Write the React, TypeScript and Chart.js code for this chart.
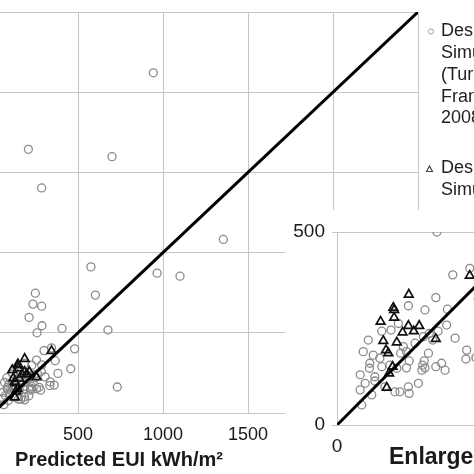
import React, { useEffect, useRef } from 'react';
import { Chart, registerables } from 'chart.js';

Chart.register(...registerables);

// Design simulation (Turner & Frankel 2008): predicted EUI (x) vs measured EUI (y), kWh/m2
const circleX = [
  344, 300, 256, 185, 228, 286, 159, 116, 140, 284, 262, 239, 224, 81, 306, 248,
  68, 94, 111, 172, 202, 180, 237, 165, 226, 222, 228, 220, 336, 334, 85, 84,
  116, 155, 180, 256, 280, 271, 60, 98, 211, 60, 73, 90, 150, 163, 185, 187,
  64, 124, 137, 98, 187, 259,
  943, 208, 700, 286, 1355, 576, 965, 1100, 249, 602, 235, 286, 212, 288, 406,
  676, 480, 457, 382, 366, 731, 360,
];
const circleY = [
  406, 389, 330, 309, 298, 300, 263, 243, 246, 259, 243, 237, 229, 220, 225, 220,
  190, 181, 173, 203, 212, 190, 186, 186, 166, 155, 148, 142, 194, 171, 160, 147,
  151, 147, 148, 151, 142, 160, 130, 114, 108, 91, 108, 78, 86, 86, 99, 82,
  52, 99, 155, 125, 166, 500,
  2121, 1644, 1598, 1403, 1082, 911, 872, 853, 747, 735, 679, 666, 596, 544, 527,
  517, 400, 276, 247, 326, 162, 174,
];
// Design simulation (second group)
const triangleX = [344, 186, 146, 148, 148, 113, 185, 213, 170, 199, 120, 155, 256, 127, 133, 144, 135, 129];
const triangleY = [387, 338, 304, 298, 278, 268, 257, 257, 240, 243, 218, 214, 223, 194, 186, 151, 134, 97];

// reference line y = x
const identityLine = [0, 2500];

const mainGridTicks = [500, 1000, 1500, 2000, 2500];
const mainYGridTicks = [0, 500, 1000, 1500, 2000, 2500];
const mainLabelledTicks = [500, 1000, 1500];
const insetXTicks = [0];
const insetYTicks = [0, 500];

const legendLines1 = ['Design', 'Simulation', '(Turner &', 'Frankel', '2008)'];
const legendLines2 = ['Design', 'Simulation'];
const mainTitle = 'Predicted EUI kWh/m²';
const insetTitle = 'Enlarged view';

const FONT = '"Liberation Sans", Arial, Helvetica, sans-serif';
const GRID = '#c6c6c6';
const CIRCLE = '#8a8a8a';
const TRI = '#111111';
const TEXT = '#1a1a1a';

function pts(xs: number[], ys: number[]) {
  return xs.map((x, i) => ({ x, y: ys[i] }));
}

export default function App() {
  const mainRef = useRef<HTMLCanvasElement | null>(null);
  const insetRef = useRef<HTMLCanvasElement | null>(null);

  useEffect(() => {
    const circles = pts(circleX, circleY);
    const triangles = pts(triangleX, triangleY);
    const line = identityLine.map((v) => ({ x: v, y: v }));

    const datasets = () => [
      {
        label: 'identity',
        data: line,
        showLine: true,
        borderColor: '#000',
        borderWidth: 3,
        pointRadius: 0,
        order: 0,
      },
      {
        label: 'Design Simulation (Turner & Frankel 2008)',
        data: circles,
        pointStyle: 'circle',
        pointRadius: 4,
        borderColor: CIRCLE,
        borderWidth: 1.3,
        backgroundColor: 'rgba(0,0,0,0)',
        order: 2,
      },
      {
        label: 'Design Simulation',
        data: triangles,
        pointStyle: 'triangle',
        pointRadius: 5,
        borderColor: TRI,
        borderWidth: 1.7,
        backgroundColor: 'rgba(0,0,0,0)',
        order: 1,
      },
    ];

    const mainDecor = {
      id: 'mainDecor',
      afterDraw(chart: any) {
        const ctx = chart.ctx;
        const area = chart.chartArea;
        ctx.save();
        // legend
        const lx = area.right + 23;
        ctx.font = `18px ${FONT}`;
        ctx.fillStyle = '#222';
        ctx.textBaseline = 'middle';
        ctx.textAlign = 'left';
        legendLines1.forEach((t, i) => ctx.fillText(t, lx, area.top + 19.5 + i * 21.7));
        legendLines2.forEach((t, i) => ctx.fillText(t, lx, area.top + 156 + i * 22.5));
        ctx.strokeStyle = '#a0a0a0';
        ctx.lineWidth = 1;
        ctx.beginPath();
        ctx.arc(lx - 10, area.top + 19.5, 2.6, 0, Math.PI * 2);
        ctx.stroke();
        ctx.strokeStyle = '#444';
        ctx.lineWidth = 1.2;
        const tx = lx - 11.5;
        const ty = area.top + 157;
        ctx.beginPath();
        ctx.moveTo(tx, ty - 3);
        ctx.lineTo(tx + 3, ty + 2.5);
        ctx.lineTo(tx - 3, ty + 2.5);
        ctx.closePath();
        ctx.stroke();
        // x-axis title
        ctx.font = `bold 20px ${FONT}`;
        ctx.fillStyle = TEXT;
        ctx.textAlign = 'center';
        ctx.fillText(mainTitle, 119, area.bottom + 47);
        ctx.restore();
      },
    };

    const insetDecor = {
      id: 'insetDecor',
      afterDraw(chart: any) {
        const ctx = chart.ctx;
        const area = chart.chartArea;
        ctx.save();
        ctx.font = `bold 23px ${FONT}`;
        ctx.fillStyle = TEXT;
        ctx.textAlign = 'left';
        ctx.textBaseline = 'middle';
        ctx.fillText(insetTitle, area.left + 52, area.bottom + 33);
        ctx.restore();
      },
    };

    const main = new Chart(mainRef.current as HTMLCanvasElement, {
      type: 'scatter',
      data: { datasets: datasets() as any },
      options: {
        animation: false,
        responsive: true,
        maintainAspectRatio: false,
        layout: { autoPadding: false, padding: { left: 0, top: 12, right: 56, bottom: 0 } },
        plugins: { legend: { display: false }, tooltip: { enabled: false } },
        scales: {
          x: {
            type: 'linear',
            min: 41,
            max: 2500,
            afterBuildTicks: (s: any) => {
              s.ticks = mainGridTicks.map((v) => ({ value: v }));
            },
            afterFit: (s: any) => {
              s.height = 61;
            },
            grid: { color: GRID, drawTicks: false, lineWidth: 1 },
            border: { display: false },
            ticks: {
              padding: 11,
              color: TEXT,
              font: { family: FONT, size: 18 },
              maxRotation: 0,
              autoSkip: false,
              callback: (v: any) => (mainLabelledTicks.includes(Number(v)) ? String(v) : ''),
            },
          },
          y: {
            type: 'linear',
            min: 0,
            max: 2500,
            afterBuildTicks: (s: any) => {
              s.ticks = mainYGridTicks.map((v) => ({ value: v }));
            },
            afterFit: (s: any) => {
              s.width = 0;
            },
            grid: { color: GRID, drawTicks: false, lineWidth: 1 },
            border: { display: false },
            ticks: { display: false },
          },
        },
      } as any,
      plugins: [mainDecor],
    });

    const inset = new Chart(insetRef.current as HTMLCanvasElement, {
      type: 'scatter',
      data: { datasets: datasets() as any },
      options: {
        animation: false,
        responsive: true,
        maintainAspectRatio: false,
        layout: { autoPadding: false, padding: { left: 0, top: 22, right: 0, bottom: 0 } },
        plugins: { legend: { display: false }, tooltip: { enabled: false } },
        scales: {
          x: {
            type: 'linear',
            min: 0,
            max: 355,
            afterBuildTicks: (s: any) => {
              s.ticks = insetXTicks.map((v) => ({ value: v }));
            },
            afterFit: (s: any) => {
              s.height = 49;
            },
            grid: { color: GRID, drawTicks: false },
            border: { display: true, color: GRID },
            ticks: { padding: 10, color: TEXT, font: { family: FONT, size: 19 }, maxRotation: 0 },
          },
          y: {
            type: 'linear',
            min: 0,
            max: 500,
            afterBuildTicks: (s: any) => {
              s.ticks = insetYTicks.map((v) => ({ value: v }));
            },
            afterFit: (s: any) => {
              s.width = 52;
            },
            grid: { color: GRID, drawTicks: true, tickLength: 5 },
            border: { display: true, color: GRID },
            ticks: { padding: 7, color: TEXT, font: { family: FONT, size: 19 } },
          },
        },
      } as any,
      plugins: [insetDecor],
    });

    return () => {
      main.destroy();
      inset.destroy();
    };
  }, []);

  return (
    <div style={{ position: 'fixed', left: 0, top: 0, width: 474, height: 474, background: '#fff', overflow: 'hidden' }}>
      <div style={{ position: 'absolute', left: 0, top: 0, width: 474, height: 474 }}>
        <canvas ref={mainRef} />
      </div>
      <div style={{ position: 'absolute', left: 285, top: 210, width: 189, height: 264, background: '#fff' }}>
        <canvas ref={insetRef} />
      </div>
    </div>
  );
}
